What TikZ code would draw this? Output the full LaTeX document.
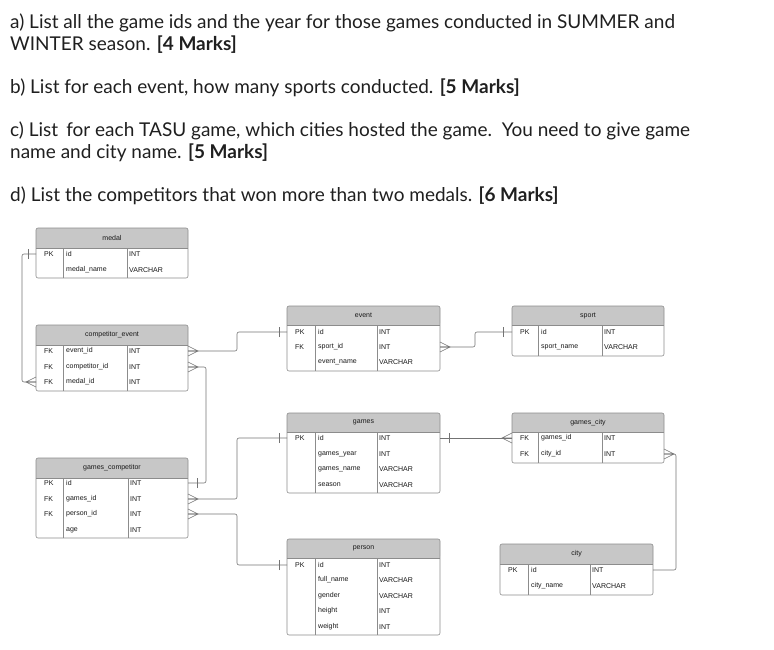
\documentclass[tikz,border=0pt]{standalone}
\usepackage{fontspec}
\setmainfont{Lato}
\newfontfamily\tabfont{Liberation Sans}
\begin{document}
\begin{tikzpicture}[x=1pt,y=-1pt,
  box/.style={draw=black!45,line width=0.6pt,rounded corners=2pt},
  cell/.style={anchor=west,inner sep=0pt,font=\tabfont\fontsize{7}{8}\selectfont,text=black!90},
  q/.style={anchor=base west,inner sep=0pt,font=\fontsize{19}{22}\selectfont,text=black!88},
  con/.style={draw=black!55,line width=0.6pt,rounded corners=2pt},
  erm/.style={draw=black!55,line width=0.6pt}]
\useasboundingbox (0,0) rectangle (774,650);
% questions
\node[q] (qa1) at (10,29) {a) List all the game ids and the year for those games conducted in SUMMER and};
\node[q] (qa2) at (10,51) {WINTER season. \textbf{[4 Marks]}};
\node[q] (qb) at (10,94) {b) List for each event, how many sports conducted. \textbf{[5 Marks]}};
\node[q] (qc1) at (10,137) {c) List\, for each TASU game, which cities hosted the game.\, You need to give game};
\node[q] (qc2) at (10,159) {name and city name. \textbf{[5 Marks]}};
\node[q] (qd) at (10,201) {d) List the competitors that won more than two medals. \textbf{[6 Marks]}};
% macros
\newcommand\erbox[9]{% name x1 y1 x2 y2 hb title c1 c2
  \gdef\eL{#2}\gdef\eR{#4}\gdef\eHB{#6}\gdef\eA{#8}\gdef\eB{#9}%
  \fill[white,rounded corners=2pt] (#2,#3) rectangle (#4,#5);
  \fill[black!22,rounded corners=2pt] (#2,#3) rectangle (#4,#6);
  \fill[black!22] (#2,#6-4) rectangle (#4,#6);
  \draw[box] (#2,#3) rectangle (#4,#5);
  \draw[draw=black!45,line width=0.6pt] (#2,#6) -- (#4,#6);
  \draw[draw=black!45,line width=0.6pt] (#8,#6) -- (#8,#5) (#9,#6) -- (#9,#5);
  \node[cell,anchor=center] (#1) at ({(#2+#4)/2},{(#3+#6)/2}) {#7};}
\newcommand\erow[5]{% name y key field type
  \coordinate (#1L) at (\eL,#2);
  \coordinate (#1R) at (\eR,#2);
  \node[cell] (#1k) at (\eL+8,#2) {#3};
  \node[cell] (#1f) at (\eA+3,#2) {#4};
  \node[cell] (#1t) at (\eB+2,#2) {#5};}
\newcommand\crowR[1]{\draw[erm] ([yshift=-5]#1) -- ([xshift=10]#1) -- ([yshift=5]#1) (#1) -- ([xshift=10]#1);}
\newcommand\crowL[1]{\draw[erm] ([yshift=-5]#1) -- ([xshift=-10]#1) -- ([yshift=5]#1) (#1) -- ([xshift=-10]#1);}
\newcommand\tick[2]{\draw[erm] ([xshift=#2,yshift=-5]#1) -- ([xshift=#2,yshift=5]#1);}
% medal
\erbox{medal}{36}{228}{188}{278}{248}{medal}{63}{127}
\erow{m1}{254}{PK}{id}{INT}
\erow{m2}{270}{}{medal\_name}{VARCHAR}
% competitor_event
\erbox{ce}{36}{325}{188}{391}{345}{competitor\_event}{63}{127}
\erow{ce1}{351}{FK}{event\_id}{INT}
\erow{ce2}{367}{FK}{competitor\_id}{INT}
\erow{ce3}{382}{FK}{medal\_id}{INT}
% games_competitor
\erbox{gc}{36}{458}{188}{538}{478}{games\_competitor}{63}{128}
\erow{gc1}{483}{PK}{id}{INT}
\erow{gc2}{499}{FK}{games\_id}{INT}
\erow{gc3}{514}{FK}{person\_id}{INT}
\erow{gc4}{530}{}{age}{INT}
% event
\erbox{ev}{287}{306}{440}{371}{325}{event}{315}{377}
\erow{ev1}{332}{PK}{id}{INT}
\erow{ev2}{347}{FK}{sport\_id}{INT}
\erow{ev3}{362}{}{event\_name}{VARCHAR}
% games
\erbox{ga}{287}{413}{440}{493}{432}{games}{315}{377}
\erow{ga1}{438}{PK}{id}{INT}
\erow{ga2}{454}{}{games\_year}{INT}
\erow{ga3}{469}{}{games\_name}{VARCHAR}
\erow{ga4}{485}{}{season}{VARCHAR}
% person
\erbox{pe}{287}{539}{440}{635}{558}{person}{315}{377}
\erow{pe1}{565}{PK}{id}{INT}
\erow{pe2}{580}{}{full\_name}{VARCHAR}
\erow{pe3}{596}{}{gender}{VARCHAR}
\erow{pe4}{611}{}{height}{INT}
\erow{pe5}{627}{}{weight}{INT}
% sport
\erbox{sp}{512}{306}{664}{356}{325}{sport}{538}{602}
\erow{sp1}{332}{PK}{id}{INT}
\erow{sp2}{347}{}{sport\_name}{VARCHAR}
% games_city
\erbox{gy}{512}{413}{664}{463}{432}{games\_city}{538}{602}
\erow{gy1}{438}{FK}{games\_id}{INT}
\erow{gy2}{454}{FK}{city\_id}{INT}
% city
\erbox{ci}{500}{544}{653}{595}{564}{city}{528}{590}
\erow{ci1}{570}{PK}{id}{INT}
\erow{ci2}{586}{}{city\_name}{VARCHAR}
% connectors
\coordinate (vA) at (22,0);
\draw[con] (m1L) -| (vA |- ce3L) -- (ce3L);
\tick{m1L}{-8}\crowL{ce3L}
\coordinate (vB) at (237,0);
\draw[con] (ce1R) -| (vB |- ev1L) -- (ev1L);
\crowR{ce1R}\tick{ev1L}{-8}
\coordinate (vC) at (206,0);
\draw[con] (ce2R) -| (vC |- gc1R) -- (gc1R);
\crowR{ce2R}\tick{gc1R}{9}
\draw[con] (gc2R) -| (vB |- ga1L) -- (ga1L);
\crowR{gc2R}\tick{ga1L}{-8}
\draw[con] (gc3R) -| (vB |- pe1L) -- (pe1L);
\crowR{gc3R}\tick{pe1L}{-8}
\coordinate (vD) at (475,0);
\draw[con] (ev2R) -| (vD |- sp1L) -- (sp1L);
\crowR{ev2R}\tick{sp1L}{-9}
\draw[con] (ga1R) -- (gy1L);
\tick{ga1R}{9}\crowL{gy1L}
\coordinate (vE) at (676,0);
\draw[con] (gy2R) -| (vE |- ci1R) -- (ci1R);
\crowR{gy2R}
\end{tikzpicture}
\end{document}
